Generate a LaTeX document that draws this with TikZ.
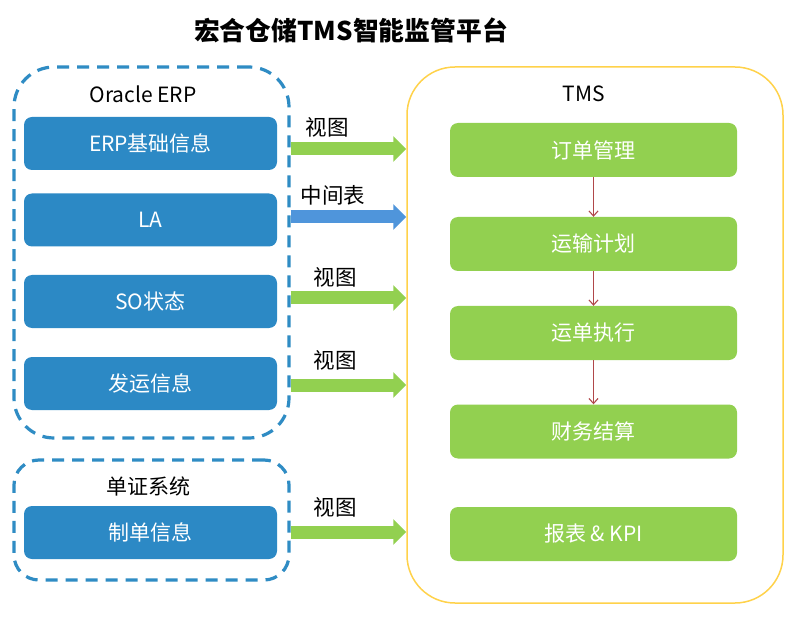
\documentclass[tikz,border=0pt]{standalone}
\usepackage{fontspec}
\setmainfont{Noto Sans CJK SC}
\usetikzlibrary{arrows.meta,calc}
\definecolor{boxblue}{HTML}{2C89C5}
\definecolor{dashblue}{HTML}{2F8CC4}
\definecolor{boxgreen}{HTML}{92D050}
\definecolor{arrblue}{HTML}{4F95DB}
\definecolor{tmsyellow}{HTML}{FFD24A}
\definecolor{flowred}{HTML}{B0474A}
\tikzset{
  bluebox/.style={fill=boxblue, rounded corners=8pt, minimum width=253pt, minimum height=53pt, text=white, font=\fontsize{21}{24}\selectfont, inner sep=0pt},
  greenbox/.style={fill=boxgreen, rounded corners=8pt, minimum width=287pt, minimum height=54pt, text=white, font=\fontsize{21}{24}\selectfont, inner sep=0pt},
  groupbox/.style={draw=dashblue, line width=3.2pt, dash pattern=on 12pt off 8pt, inner sep=0pt},
  grouplabel/.style={font=\fontsize{21}{24}\selectfont, text=black, inner sep=0pt},
  arrlabel/.style={font=\fontsize{21.5}{24}\selectfont, text=black, inner sep=0pt},
  bigarrow/.style={line width=13pt, -{Triangle[length=13pt,width=25pt]}},
  flowarrow/.style={draw=flowred, line width=1.1pt, -{Straight Barb[length=5pt,width=9pt]}}
}
\begin{document}
\begin{tikzpicture}[x=1pt,y=-1pt]
\useasboundingbox (0,0) rectangle (795,620);
\fill[white] (0,0) rectangle (795,620);

\node[font=\bfseries\fontsize{25.8}{30}\selectfont, inner sep=0pt] (title) at (351,30) {宏合仓储TMS智能监管平台};

% left groups
\node[groupbox, rounded corners=40pt, minimum width=275pt, minimum height=371pt] (oracle) at (151.5,252.5) {};
\node[grouplabel] (oraclelbl) at (143,94) {Oracle ERP};
\node[groupbox, rounded corners=25pt, minimum width=275pt, minimum height=120pt] (danzheng) at (151.5,520) {};
\node[grouplabel] (danzhenglbl) at (148,486) {单证系统};

\node[bluebox] (erp) at (150.5,143.5) {ERP基础信息};
\node[bluebox] (la) at (150.5,220) {LA};
\node[bluebox] (so) at (150.5,301.5) {SO状态};
\node[bluebox] (fy) at (150.5,383.5) {发运信息};
\node[bluebox] (zd) at (150.5,532.5) {制单信息};

% TMS
\node[draw=tmsyellow, line width=1.5pt, rounded corners=48pt, minimum width=376pt, minimum height=536pt, inner sep=0pt] (tms) at (595,335) {};
\node[grouplabel] (tmslbl) at (584,94) {TMS};
\node[greenbox] (dd) at (593.5,150) {订单管理};
\node[greenbox] (ys) at (593.5,244) {运输计划};
\node[greenbox] (zx) at (593.5,333) {运单执行};
\node[greenbox] (cw) at (593.5,431.5) {财务结算};
\node[greenbox] (bb) at (593.5,534) {报表 \& KPI};

% flow arrows
\draw[flowarrow] (dd.south) -- (ys.north);
\draw[flowarrow] (ys.south) -- (zx.north);
\draw[flowarrow] (zx.south) -- (cw.north);

% big arrows
\coordinate (a1s) at ($(oracle.east |- erp.east)+(0,5.5)$);
\coordinate (a1e) at ($(tms.west |- erp.east)+(0,5.5)$);
\draw[bigarrow, draw=boxgreen, fill=boxgreen] (a1s) -- (a1e);
\coordinate (a2s) at ($(oracle.east |- la.east)+(0,-3)$);
\coordinate (a2e) at ($(tms.west |- la.east)+(0,-3)$);
\draw[bigarrow, draw=arrblue, fill=arrblue] (a2s) -- (a2e);
\coordinate (a3s) at ($(oracle.east |- so.east)+(0,-3.5)$);
\coordinate (a3e) at ($(tms.west |- so.east)+(0,-3.5)$);
\draw[bigarrow, draw=boxgreen, fill=boxgreen] (a3s) -- (a3e);
\coordinate (a4s) at ($(oracle.east |- fy.east)+(0,1.5)$);
\coordinate (a4e) at ($(tms.west |- fy.east)+(0,1.5)$);
\draw[bigarrow, draw=boxgreen, fill=boxgreen] (a4s) -- (a4e);
\coordinate (a5s) at ($(danzheng.east |- zd.east)+(0,-0.5)$);
\coordinate (a5e) at ($(tms.west |- zd.east)+(0,-0.5)$);
\draw[bigarrow, draw=boxgreen, fill=boxgreen] (a5s) -- (a5e);

% arrow labels
\node[arrlabel] (l1) at (327,127) {视图};
\node[arrlabel] (l2) at (333,195) {中间表};
\node[arrlabel] (l3) at (335,277) {视图};
\node[arrlabel] (l4) at (335,360) {视图};
\node[arrlabel] (l5) at (335,507) {视图};
\end{tikzpicture}
\end{document}
